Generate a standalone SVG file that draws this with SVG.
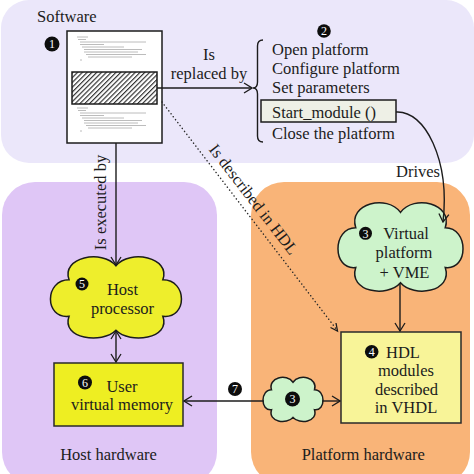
<svg xmlns="http://www.w3.org/2000/svg" width="474" height="474" viewBox="0 0 474 474">
<style>
.t{font-family:"Liberation Serif","DejaVu Serif",serif;font-size:16.5px;fill:#1c1c1c}
.m{text-anchor:middle}
.bn{font-family:"Liberation Serif","DejaVu Serif",serif;font-size:12px;fill:#fff;text-anchor:middle}
.badge{fill:#0d0d0d}
.ln{fill:none;stroke:#1c1c1c;stroke-width:1.4}
.dot{fill:none;stroke:#2a2a2a;stroke-width:1.5;stroke-dasharray:0.1 3.6;stroke-linecap:round}
.cloudpath{vector-effect:non-scaling-stroke}
.cl{stroke:#1c1c1c;stroke-width:1.5}
.code{stroke:#b4b4b4;stroke-width:0.9}
</style>
<defs>
<marker id="ah" viewBox="0 0 10 12" refX="9" refY="6" markerWidth="10" markerHeight="12" markerUnits="userSpaceOnUse" orient="auto-start-reverse">
<path d="M1,1 L9,6 L1,11" fill="none" stroke="#1c1c1c" stroke-width="1.3"/>
</marker>
<pattern id="hatch" patternUnits="userSpaceOnUse" width="3.4" height="3.4" patternTransform="rotate(45)">
<rect width="3.4" height="3.4" fill="#fff"/>
<line x1="0.6" y1="0" x2="0.6" y2="3.4" stroke="#222" stroke-width="1.1"/>
</pattern>
<path id="cloud" class="cloudpath" d="M16,18 C10,2 40,-4 50,8 C60,-4 90,2 84,18 C102,18 102,46 84,44 C90,60 60,64 50,54 C40,64 10,60 16,44 C-2,46 -2,18 16,18 Z"/>
</defs>

<g id="bg">
<rect x="1" y="0" width="473" height="163" rx="28" fill="#ebe7fa"/>
<rect x="2" y="182" width="215" height="303" rx="33" fill="#dfc6f6"/>
<rect x="251" y="182" width="219" height="303" rx="33" fill="#f9b478"/>
</g>

<g id="software">
<text class="t" x="37" y="22">Software</text>
<rect x="67" y="31" width="95" height="112" fill="#fff" stroke="#1c1c1c" stroke-width="1.5"/>
<g class="code">
<line x1="77" y1="37" x2="88" y2="37"/>
<line x1="78" y1="39.5" x2="86" y2="39.5"/>
<line x1="80" y1="42" x2="146" y2="42"/>
<line x1="80" y1="44.5" x2="104" y2="44.5"/>
<line x1="82" y1="47" x2="124" y2="47"/>
<line x1="84" y1="49.5" x2="142" y2="49.5"/>
<line x1="84" y1="52" x2="138" y2="52"/>
<line x1="86" y1="54.5" x2="146" y2="54.5"/>
<line x1="88" y1="57" x2="132" y2="57"/>
<line x1="80" y1="60" x2="82" y2="60"/>
<line x1="77" y1="108" x2="88" y2="108"/>
<line x1="78" y1="110.5" x2="86" y2="110.5"/>
<line x1="80" y1="113" x2="146" y2="113"/>
<line x1="80" y1="115.5" x2="104" y2="115.5"/>
<line x1="82" y1="118" x2="124" y2="118"/>
<line x1="84" y1="120.5" x2="142" y2="120.5"/>
<line x1="84" y1="123" x2="138" y2="123"/>
<line x1="86" y1="125.5" x2="146" y2="125.5"/>
<line x1="88" y1="128" x2="132" y2="128"/>
<line x1="80" y1="131" x2="82" y2="131"/>
</g>
<rect x="72" y="72" width="85" height="32" fill="url(#hatch)" stroke="#1c1c1c" stroke-width="1.5"/>
<circle class="badge" cx="52" cy="44" r="7.5"/>
<text class="bn" x="52" y="48.2">1</text>
</g>

<g id="steps">
<circle class="badge" cx="324" cy="31" r="6.8"/>
<text class="bn" x="324" y="35.2">2</text>
<path class="ln" d="M263,40 Q257.5,40 257.5,46 L257.5,82 Q257.5,88 253,88 Q257.5,88 257.5,94 L257.5,136 Q257.5,142 263,142"/>
<text class="t" x="272" y="55">Open platform</text>
<text class="t" x="272" y="74">Configure platform</text>
<text class="t" x="272" y="92.5">Set parameters</text>
<rect x="261" y="100" width="135" height="22" fill="#eef0e6" stroke="#1c1c1c" stroke-width="1.5"/>
<text class="t" x="272" y="117.5">Start_module ()</text>
<text class="t" x="272" y="139">Close the platform</text>
</g>

<g id="host-processor">
<use href="#cloud" class="cl" fill="#eeee2c" transform="translate(47,254.5) scale(1.379,1.404)"/>
<circle class="badge" cx="82" cy="284" r="6.5"/>
<text class="bn" x="82" y="288.2">5</text>
<text class="t m" x="122.5" y="295">Host</text>
<text class="t m" x="122.5" y="313.5">processor</text>
</g>

<g id="user-memory">
<rect x="54" y="363" width="129" height="63" fill="#eeee22" stroke="#2a2a2a" stroke-width="1.5"/>
<circle class="badge" cx="85" cy="382.5" r="7"/>
<text class="bn" x="85" y="386.7">6</text>
<text class="t m" x="122" y="391.5">User</text>
<text class="t m" x="122" y="410">virtual memory</text>
</g>

<g id="host-hardware">
<text class="t m" x="108.5" y="460">Host hardware</text>
</g>

<g id="virtual-platform">
<use href="#cloud" class="cl" fill="#cdf3cb" transform="translate(334.7,200.2) scale(1.316,1.529)"/>
<circle class="badge" cx="365.5" cy="233.3" r="6.5"/>
<text class="bn" x="365.5" y="237.5">3</text>
<text class="t m" x="406" y="239">Virtual</text>
<text class="t m" x="404" y="258">platform</text>
<text class="t m" x="404.5" y="277.5">+ VME</text>
</g>

<g id="hdl-modules">
<rect x="341" y="332" width="120" height="91" fill="#f8f498" stroke="#2a2a2a" stroke-width="1.5"/>
<circle class="badge" cx="371.7" cy="351.7" r="6.8"/>
<text class="bn" x="371.7" y="355.9">4</text>
<text class="t m" x="403" y="358">HDL</text>
<text class="t m" x="406" y="376.3">modules</text>
<text class="t m" x="406.5" y="394.6">described</text>
<text class="t m" x="406" y="412.9">in VHDL</text>
</g>

<g id="small-cloud">
<use href="#cloud" class="cl" fill="#cdf3cb" transform="translate(261.4,376.1) scale(0.632,0.764)"/>
<circle class="badge" cx="292.5" cy="399" r="7.5"/>
<text class="bn" x="292.5" y="403.2">3</text>
</g>

<g id="platform-hardware">
<text class="t m" x="363.3" y="460">Platform hardware</text>
</g>

<g id="connectors">
<line class="ln" x1="157" y1="88" x2="252" y2="88" marker-end="url(#ah)"/>
<text class="t m" x="209" y="60">Is</text>
<text class="t m" x="209" y="78.5">replaced by</text>
<path class="ln" d="M396,112 C425,110 450,160 443,222" marker-end="url(#ah)"/>
<text class="t m" x="418" y="177">Drives</text>
<line class="ln" x1="116" y1="143" x2="116" y2="265" marker-end="url(#ah)"/>
<text class="t m" transform="translate(105.5,202.5) rotate(-90)">Is executed by</text>
<line class="ln" x1="116" y1="331" x2="116" y2="362" marker-start="url(#ah)" marker-end="url(#ah)"/>
<line class="dot" x1="162" y1="102" x2="337" y2="330"/>
<path d="M330.5,327.5 L337.5,331 L336,323" fill="none" stroke="#1c1c1c" stroke-width="1.3"/>
<text class="t m" transform="translate(249.2,202.8) rotate(52.5)">Is described in HDL</text>
<line class="ln" x1="400" y1="283" x2="400" y2="331" marker-end="url(#ah)"/>
<line class="ln" x1="184" y1="401" x2="264" y2="401" marker-start="url(#ah)"/>
<circle class="badge" cx="235" cy="389" r="7"/>
<text class="bn" x="235" y="393.2">7</text>
<line class="ln" x1="322" y1="401" x2="340" y2="401" marker-end="url(#ah)"/>
</g>
</svg>
